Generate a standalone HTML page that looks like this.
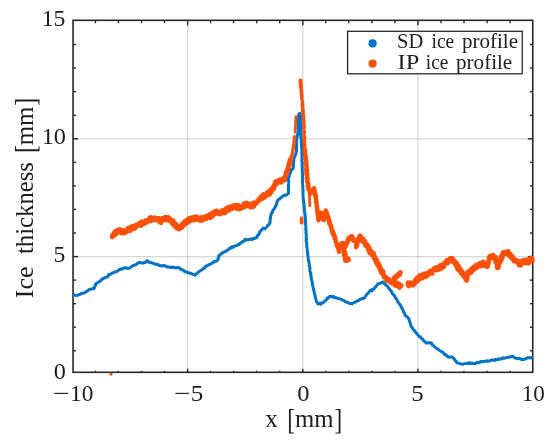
<!DOCTYPE html>
<html lang="en"><head><meta charset="utf-8"><title>Ice profile</title>
<style>html,body{margin:0;padding:0;background:#fff}svg{display:block}text{font-family:"Liberation Serif","DejaVu Serif",serif;fill:#1c1c1c}</style></head><body>
<svg width="550" height="441" viewBox="0 0 550 441">
<rect width="550" height="441" fill="#ffffff"/>
<g stroke="#000" stroke-opacity="0.16" stroke-width="1.25"><line x1="187.6" y1="20.3" x2="187.6" y2="372.3"/><line x1="302.8" y1="20.3" x2="302.8" y2="372.3"/><line x1="417.9" y1="20.3" x2="417.9" y2="372.3"/><line x1="73.05" y1="256.6" x2="532.75" y2="256.6"/><line x1="73.05" y1="138.8" x2="532.75" y2="138.8"/></g>
<g stroke="#262626" stroke-width="1.4"><line x1="95.4" y1="372.3" x2="95.4" y2="370.8"/><line x1="95.4" y1="20.3" x2="95.4" y2="23.2"/><line x1="118.4" y1="372.3" x2="118.4" y2="370.8"/><line x1="118.4" y1="20.3" x2="118.4" y2="23.2"/><line x1="141.5" y1="372.3" x2="141.5" y2="370.8"/><line x1="141.5" y1="20.3" x2="141.5" y2="23.2"/><line x1="164.5" y1="372.3" x2="164.5" y2="370.8"/><line x1="164.5" y1="20.3" x2="164.5" y2="23.2"/><line x1="187.6" y1="372.3" x2="187.6" y2="368.7"/><line x1="187.6" y1="20.3" x2="187.6" y2="25.3"/><line x1="210.6" y1="372.3" x2="210.6" y2="370.8"/><line x1="210.6" y1="20.3" x2="210.6" y2="23.2"/><line x1="233.6" y1="372.3" x2="233.6" y2="370.8"/><line x1="233.6" y1="20.3" x2="233.6" y2="23.2"/><line x1="256.7" y1="372.3" x2="256.7" y2="370.8"/><line x1="256.7" y1="20.3" x2="256.7" y2="23.2"/><line x1="279.7" y1="372.3" x2="279.7" y2="370.8"/><line x1="279.7" y1="20.3" x2="279.7" y2="23.2"/><line x1="302.8" y1="372.3" x2="302.8" y2="368.7"/><line x1="302.8" y1="20.3" x2="302.8" y2="25.3"/><line x1="325.8" y1="372.3" x2="325.8" y2="370.8"/><line x1="325.8" y1="20.3" x2="325.8" y2="23.2"/><line x1="348.8" y1="372.3" x2="348.8" y2="370.8"/><line x1="348.8" y1="20.3" x2="348.8" y2="23.2"/><line x1="371.9" y1="372.3" x2="371.9" y2="370.8"/><line x1="371.9" y1="20.3" x2="371.9" y2="23.2"/><line x1="394.9" y1="372.3" x2="394.9" y2="370.8"/><line x1="394.9" y1="20.3" x2="394.9" y2="23.2"/><line x1="417.9" y1="372.3" x2="417.9" y2="368.7"/><line x1="417.9" y1="20.3" x2="417.9" y2="25.3"/><line x1="441.0" y1="372.3" x2="441.0" y2="370.8"/><line x1="441.0" y1="20.3" x2="441.0" y2="23.2"/><line x1="464.0" y1="372.3" x2="464.0" y2="370.8"/><line x1="464.0" y1="20.3" x2="464.0" y2="23.2"/><line x1="487.1" y1="372.3" x2="487.1" y2="370.8"/><line x1="487.1" y1="20.3" x2="487.1" y2="23.2"/><line x1="510.1" y1="372.3" x2="510.1" y2="370.8"/><line x1="510.1" y1="20.3" x2="510.1" y2="23.2"/><line x1="73.05" y1="350.8" x2="76.0" y2="350.8"/><line x1="532.75" y1="350.8" x2="529.9" y2="350.8"/><line x1="73.05" y1="327.2" x2="76.0" y2="327.2"/><line x1="532.75" y1="327.2" x2="529.9" y2="327.2"/><line x1="73.05" y1="303.7" x2="76.0" y2="303.7"/><line x1="532.75" y1="303.7" x2="529.9" y2="303.7"/><line x1="73.05" y1="280.1" x2="76.0" y2="280.1"/><line x1="532.75" y1="280.1" x2="529.9" y2="280.1"/><line x1="73.05" y1="256.6" x2="78.0" y2="256.6"/><line x1="532.75" y1="256.6" x2="527.8" y2="256.6"/><line x1="73.05" y1="233.0" x2="76.0" y2="233.0"/><line x1="532.75" y1="233.0" x2="529.9" y2="233.0"/><line x1="73.05" y1="209.4" x2="76.0" y2="209.4"/><line x1="532.75" y1="209.4" x2="529.9" y2="209.4"/><line x1="73.05" y1="185.9" x2="76.0" y2="185.9"/><line x1="532.75" y1="185.9" x2="529.9" y2="185.9"/><line x1="73.05" y1="162.3" x2="76.0" y2="162.3"/><line x1="532.75" y1="162.3" x2="529.9" y2="162.3"/><line x1="73.05" y1="138.8" x2="78.0" y2="138.8"/><line x1="532.75" y1="138.8" x2="527.8" y2="138.8"/><line x1="73.05" y1="115.2" x2="76.0" y2="115.2"/><line x1="532.75" y1="115.2" x2="529.9" y2="115.2"/><line x1="73.05" y1="91.6" x2="76.0" y2="91.6"/><line x1="532.75" y1="91.6" x2="529.9" y2="91.6"/><line x1="73.05" y1="68.1" x2="76.0" y2="68.1"/><line x1="532.75" y1="68.1" x2="529.9" y2="68.1"/><line x1="73.05" y1="44.5" x2="76.0" y2="44.5"/><line x1="532.75" y1="44.5" x2="529.9" y2="44.5"/></g>
<rect x="73.05" y="20.3" width="459.7" height="352.0" fill="none" stroke="#262626" stroke-width="1.6"/>
<defs><clipPath id="cb"><rect x="73" y="20.3" width="459.8" height="352"/></clipPath><clipPath id="co"><rect x="71" y="18" width="463.6" height="358"/></clipPath></defs>
<g clip-path="url(#cb)" fill="none" stroke-linejoin="round" stroke-linecap="round">
<polyline stroke="#0073C4" stroke-width="3.0" points="73.0,294.8 74.0,294.8 74.9,295.2 76.2,295.7 77.3,295.3 78.3,294.9 79.1,294.7 80.6,294.2 81.4,293.2 82.6,293.2 83.9,293.0 85.1,292.4 86.0,291.9 86.9,291.4 88.1,290.4 89.1,289.5 90.3,289.3 91.7,289.1 92.7,288.4 93.9,288.8 94.4,287.4 95.1,285.8 95.5,285.5 95.7,283.9 97.0,283.0 98.1,282.4 98.8,281.9 100.1,281.2 101.2,280.3 102.0,279.0 103.1,278.7 103.9,278.1 104.9,277.8 106.2,276.9 106.8,277.1 108.2,276.4 108.7,274.6 110.1,274.4 110.8,274.1 112.2,273.0 113.2,272.7 114.6,272.2 115.7,271.7 116.6,271.5 118.1,270.8 118.9,269.9 120.5,269.0 121.5,269.3 122.5,268.9 123.9,267.9 125.0,267.6 126.0,268.1 126.9,268.1 128.2,268.6 128.9,268.4 130.2,267.4 130.8,267.0 132.0,266.4 133.2,265.6 134.2,265.0 134.9,265.0 136.2,264.5 137.1,263.6 138.0,263.2 139.0,262.5 140.4,262.6 141.8,263.0 143.3,263.1 143.9,262.5 145.0,262.5 145.9,261.9 147.3,260.6 148.1,261.9 149.6,262.3 150.7,262.8 152.0,262.8 153.6,263.5 154.3,263.8 155.6,264.2 156.4,264.5 158.2,264.6 159.1,265.5 160.4,265.9 161.2,265.6 162.5,266.1 163.9,265.3 165.0,265.9 166.1,266.2 167.2,267.1 168.3,266.9 169.5,267.1 170.6,267.6 171.9,267.2 173.3,267.1 174.1,267.5 175.3,267.9 176.5,268.0 177.5,267.4 179.1,267.7 179.8,268.2 181.2,269.6 182.2,269.7 183.2,270.1 184.5,271.4 185.5,271.9 186.9,271.9 187.7,272.8 189.2,272.7 190.4,273.4 191.7,273.4 192.8,274.6 194.1,274.5 194.9,275.3 196.0,274.2 197.2,273.3 197.7,272.5 198.7,272.0 200.0,270.8 201.0,270.4 202.0,269.8 203.0,268.9 204.2,268.3 204.9,267.3 205.7,266.1 206.7,266.2 207.8,265.3 209.0,264.7 209.9,264.2 211.3,263.6 212.1,263.3 213.0,262.1 213.9,262.3 214.8,261.3 216.2,261.2 217.0,260.7 218.0,259.6 218.0,258.7 218.6,257.6 218.6,256.5 218.8,255.6 219.8,255.1 220.6,254.4 221.9,253.0 223.1,252.9 223.7,252.1 225.0,251.5 226.1,251.2 227.1,250.4 228.2,249.9 229.1,248.4 230.1,248.7 231.0,247.5 232.3,246.5 233.2,247.3 234.2,246.3 235.8,245.7 236.8,245.5 237.7,244.8 239.0,244.6 240.0,243.6 240.8,242.8 242.1,242.2 242.9,241.2 244.4,241.1 245.1,239.2 246.3,240.0 247.6,239.8 248.5,239.7 249.4,239.6 250.9,239.0 252.2,239.5 253.1,238.5 254.7,238.4 255.9,237.7 257.0,237.3 257.2,235.6 258.3,235.3 258.9,234.2 259.2,233.1 259.7,231.8 260.7,231.2 261.4,230.0 262.3,229.1 263.1,228.1 264.0,228.7 265.0,228.8 265.6,228.1 266.4,227.3 267.1,226.5 267.8,225.2 268.6,225.0 269.4,223.8 270.1,222.7 269.8,221.9 270.1,221.0 270.2,218.8 270.3,219.0 270.6,217.0 270.6,216.4 270.9,215.2 271.2,214.2 271.6,213.2 272.4,212.3 272.8,210.7 273.2,210.2 273.7,209.3 274.4,208.3 274.9,207.8 275.6,205.9 276.0,205.8 276.4,204.0 277.0,202.5 277.1,201.3 277.8,200.3 278.7,199.4 279.7,198.9 280.5,198.1 281.3,197.6 282.1,196.6 283.5,195.8 284.6,195.1 285.7,195.3 287.1,194.5 288.2,193.6 288.6,192.9 288.5,191.2 288.4,189.7 288.6,189.2 288.3,187.7 288.7,186.0 288.3,185.1 288.5,183.9 288.6,183.2 288.7,182.2 288.8,181.2 288.4,179.6 288.4,178.3 288.9,177.5 289.2,176.0 289.3,175.4 289.7,174.2 290.0,173.0 290.6,172.2 290.9,170.9 291.4,169.2 292.2,169.3 293.0,168.7 293.3,167.0 293.3,166.0 293.5,165.1 293.5,163.4 293.6,162.4 293.8,161.3 293.7,159.6 294.1,158.6 294.3,157.5 294.8,156.4 295.3,155.0 295.9,153.8 296.1,152.8 296.5,150.8 296.4,150.1 296.6,149.5 296.5,147.9 296.6,146.5 296.6,145.0 296.6,143.4 296.7,142.2 296.5,141.9 296.5,140.0 296.9,138.8 296.9,137.6 297.3,136.5 297.4,135.5 297.9,133.8 297.9,132.4 298.2,131.0 298.3,129.9 298.1,129.0 298.5,127.5 298.2,126.5 298.3,125.1 298.6,124.1 298.3,123.2 298.5,121.5 298.4,120.0 298.3,119.2 298.8,117.0 298.5,115.5 299.0,114.8 299.0,113.7 300.1,113.5 300.3,114.5 300.4,116.1 300.5,117.3 300.3,118.7 300.4,120.5 300.7,121.2 300.5,122.3 300.5,123.6 300.7,125.2 300.8,126.9 300.6,127.5 301.2,128.2 300.7,130.1 300.9,131.4 300.9,132.6 301.0,134.0 300.7,134.7 301.0,135.9 300.9,137.7 301.1,138.9 301.3,140.1 301.4,141.2 301.1,142.5 301.5,143.6 301.5,145.2 301.4,146.4 301.9,147.3 301.7,148.7 302.0,150.1 302.0,150.9 301.9,152.3 301.6,153.9 302.1,154.1 302.1,155.7 302.1,157.0 301.8,158.0 302.3,159.1 301.9,160.0 301.9,161.6 302.4,162.8 302.2,164.5 302.1,164.8 302.3,166.4 302.1,167.0 302.3,168.7 302.1,169.7 302.3,171.1 302.4,172.2 302.4,173.7 302.7,174.5 302.6,175.6 302.5,177.2 302.8,178.1 302.6,179.5 302.4,180.6 302.6,181.9 302.5,182.4 302.7,184.2 302.7,185.6 302.8,186.3 302.9,187.2 302.8,188.8 303.1,190.0 303.0,191.0 303.1,192.9 302.9,194.2 303.0,194.7 303.1,196.2 303.0,196.4 303.3,198.4 303.4,200.2 303.5,200.6 303.7,201.9 304.0,202.5 303.8,203.1 304.1,205.2 304.2,207.1 304.2,207.6 304.3,208.6 304.4,210.2 304.6,211.3 304.7,212.8 304.9,213.7 305.1,215.0 305.0,216.7 305.3,217.2 305.5,218.9 305.3,220.5 305.6,221.4 305.6,222.3 305.4,223.8 305.7,224.6 305.8,225.9 305.9,226.9 305.8,227.6 305.8,229.6 306.1,230.5 306.0,232.2 306.0,233.2 306.3,234.1 306.3,235.1 306.2,236.4 306.2,238.0 306.6,238.6 306.2,240.1 306.2,241.3 306.6,242.2 306.7,243.0 306.8,244.2 306.7,245.6 306.9,247.2 307.1,248.0 307.2,249.7 307.3,250.5 307.6,251.6 307.3,253.4 307.9,253.3 307.7,255.1 308.0,256.4 308.1,257.1 308.3,259.0 308.3,259.6 308.7,260.5 308.9,262.2 309.2,263.3 309.2,264.7 309.5,265.8 309.7,267.4 310.0,268.8 309.9,269.4 309.8,271.2 310.2,271.8 310.6,272.6 310.7,274.2 310.6,275.4 311.2,275.9 311.3,277.7 311.4,279.0 311.7,279.9 311.9,281.0 312.1,282.1 312.3,284.0 312.6,284.6 312.6,285.6 313.1,287.3 313.4,288.3 313.6,289.7 313.8,290.3 314.2,291.7 314.3,292.7 314.6,294.2 314.9,294.7 315.2,296.2 315.3,297.5 315.7,298.2 316.1,299.8 316.2,300.6 316.8,302.3 317.6,303.1 318.2,304.0 320.0,303.1 320.9,304.2 322.0,303.0 323.3,302.5 323.8,302.0 324.7,301.3 325.7,300.2 326.9,299.4 327.3,298.0 328.5,297.9 329.0,297.1 330.1,296.2 330.9,296.3 332.5,297.0 333.7,296.5 334.8,297.7 336.4,297.7 337.1,298.3 338.5,298.5 339.7,298.8 340.7,299.2 341.9,299.5 342.8,300.3 344.0,300.4 345.0,301.5 345.9,301.8 347.1,302.6 347.9,302.4 349.5,303.4 350.7,303.6 352.0,303.9 352.8,303.2 353.9,302.6 354.8,302.4 355.8,301.8 356.8,301.1 358.4,300.6 359.2,300.0 360.5,299.0 361.6,299.0 362.8,298.5 364.1,298.2 364.9,297.3 365.5,296.2 366.2,295.3 367.0,294.0 367.7,293.6 368.4,292.7 369.3,291.8 370.3,290.2 371.0,290.0 372.1,290.8 372.6,289.5 374.1,288.9 374.9,287.3 375.7,287.1 376.4,285.8 377.3,284.9 378.0,283.8 378.9,283.5 380.5,283.2 381.6,282.5 383.1,282.0 384.0,283.4 384.5,283.1 385.6,285.0 386.5,285.6 387.1,286.0 388.1,286.7 388.4,287.7 389.8,289.6 390.0,289.8 390.9,290.8 391.8,292.0 392.1,293.4 392.9,294.1 393.7,294.9 394.4,295.8 394.7,296.3 395.5,297.8 396.3,299.0 397.1,300.0 397.5,300.8 397.9,301.9 398.9,303.2 399.5,303.9 400.3,305.0 400.9,306.2 401.4,307.4 401.9,307.9 402.4,308.9 403.2,310.9 403.5,311.7 404.2,312.9 404.7,313.5 404.9,315.1 406.0,315.8 406.5,316.5 407.3,317.1 408.4,318.0 409.0,319.6 409.5,320.3 409.6,321.5 410.2,322.7 410.5,323.7 410.7,324.8 411.1,326.4 411.5,327.0 412.4,327.8 413.0,329.2 414.0,330.2 414.4,330.5 415.3,332.0 415.9,332.5 416.7,333.4 417.6,334.7 418.4,335.5 419.2,336.7 420.0,336.6 421.0,337.8 421.7,338.7 422.8,339.2 423.6,340.8 424.5,341.2 425.3,342.0 426.1,343.0 427.0,342.9 428.0,342.9 429.1,342.6 430.0,343.1 430.7,342.8 431.5,343.2 432.2,344.8 433.2,344.9 433.9,346.4 434.9,346.9 436.0,348.1 437.3,348.7 438.0,349.2 439.3,350.3 440.0,350.7 441.0,351.3 441.9,351.6 442.8,352.3 443.9,353.6 444.4,354.6 445.6,354.3 446.6,355.8 447.5,355.9 448.1,357.1 449.3,357.2 450.7,356.9 451.6,357.0 452.9,357.4 453.9,358.6 454.6,359.3 455.3,360.8 456.3,361.5 457.0,362.9 457.9,363.1 459.2,363.4 460.1,363.7 461.3,364.0 462.1,364.1 463.4,364.2 464.6,363.7 465.9,363.6 467.0,363.4 468.2,363.5 469.3,362.6 470.6,363.4 471.3,363.3 472.8,363.5 473.7,363.5 475.0,363.7 476.1,363.0 477.2,362.3 478.6,362.7 479.8,362.5 480.6,361.5 481.8,361.6 482.9,361.8 484.2,361.3 485.3,361.2 486.5,361.3 487.7,360.7 488.5,361.2 489.9,360.9 490.8,360.3 492.1,359.8 493.2,360.3 494.6,360.4 495.4,359.3 496.8,359.8 497.9,359.0 499.1,359.4 500.3,358.8 501.5,358.9 502.6,357.8 504.0,358.2 505.2,358.1 506.3,357.5 507.5,357.4 508.9,356.9 510.1,357.2 511.0,356.7 512.3,356.2 513.1,356.5 514.3,357.7 515.5,357.9 516.5,358.3 517.5,358.7 518.9,358.3 520.0,358.7 521.5,359.5 522.4,359.6 523.9,359.4 524.6,359.0 525.8,359.0 526.9,357.9 528.0,357.7 529.3,357.7 530.1,357.6 531.3,358.1 532.6,357.7"/>
</g>
<g clip-path="url(#co)" fill="none" stroke="#FC5009" stroke-linecap="round">
<path stroke-width="4.8" d="M112.2,237.1h0M112.2,236.2h0M112.7,235.1h0M113.0,235.6h0M113.7,235.5h0M113.9,233.3h0M114.0,235.3h0M114.8,233.9h0M114.9,231.9h0M115.4,232.1h0M115.5,234.7h0M115.9,231.2h0M116.4,232.6h0M116.7,232.2h0M117.0,233.1h0M117.6,231.2h0M117.8,230.2h0M118.2,230.6h0M118.8,229.6h0M118.5,230.6h0M119.2,230.4h0M119.7,229.4h0M120.3,231.1h0M120.4,230.9h0M121.2,230.5h0M121.4,233.2h0M122.1,230.6h0M122.1,231.3h0M122.9,230.4h0M123.2,233.0h0M123.6,231.8h0M124.4,231.0h0M124.5,231.2h0M125.0,232.8h0M125.0,231.3h0M125.3,231.4h0M125.9,232.3h0M126.2,232.1h0M126.6,230.1h0M127.0,230.1h0M127.8,228.3h0M127.8,229.2h0M128.4,229.0h0M128.9,229.3h0M129.1,230.0h0M129.9,230.8h0M130.2,227.3h0M130.6,230.4h0M131.1,227.3h0M130.9,228.9h0M132.0,226.4h0M131.9,228.7h0M132.2,226.4h0M133.1,226.7h0M133.1,226.9h0M134.0,228.8h0M134.5,225.9h0M134.8,227.3h0M135.3,227.4h0M135.7,227.7h0M136.0,225.2h0M136.4,226.3h0M137.0,225.8h0M136.9,226.0h0M137.2,224.6h0M137.6,225.4h0M138.1,225.1h0M138.7,225.0h0M139.4,225.0h0M139.8,222.8h0M140.0,224.4h0M140.7,224.9h0M140.8,223.6h0M140.9,225.7h0M141.7,224.2h0M142.1,221.7h0M142.8,224.0h0M143.2,222.5h0M143.3,222.9h0M143.3,224.2h0M144.2,223.3h0M144.8,221.7h0M144.9,221.6h0M145.5,222.0h0M145.7,220.6h0M146.2,221.2h0M146.4,222.5h0M146.9,222.3h0M147.2,220.9h0M148.1,220.7h0M148.4,221.0h0M148.5,219.6h0M149.1,219.2h0M149.6,220.4h0M150.0,217.9h0M150.3,221.0h0M150.5,217.7h0M150.8,217.3h0M151.5,220.7h0M152.1,219.5h0M152.4,220.3h0M152.8,219.0h0M153.2,219.4h0M153.4,219.4h0M154.1,219.4h0M154.2,219.8h0M154.7,217.6h0M155.8,219.9h0M155.8,219.5h0M156.6,220.2h0M156.6,219.4h0M157.2,218.6h0M157.6,218.9h0M158.4,220.3h0M158.5,218.2h0M158.6,218.3h0M159.4,221.5h0M159.7,222.0h0M160.1,218.8h0M160.9,221.2h0M161.0,222.8h0M161.1,220.4h0M161.6,221.1h0M161.9,219.0h0M162.8,218.2h0M163.4,218.5h0M163.7,218.1h0M163.5,218.1h0M164.1,220.1h0M164.4,219.9h0M165.3,217.1h0M165.8,219.4h0M165.6,219.6h0M166.5,219.3h0M167.1,218.8h0M167.6,218.1h0M167.3,220.0h0M168.2,217.4h0M168.2,220.6h0M169.2,218.8h0M169.6,218.5h0M169.4,220.0h0M170.1,219.9h0M170.5,220.4h0M171.0,219.6h0M171.2,220.7h0M171.4,222.0h0M172.0,221.3h0M172.4,223.8h0M172.4,222.6h0M173.3,221.0h0M173.5,223.7h0M173.7,222.6h0M174.1,225.4h0M174.0,224.3h0M174.7,224.0h0M174.8,224.1h0M175.2,225.3h0M175.0,226.4h0M175.3,223.7h0M175.8,225.7h0M176.3,227.5h0M176.5,224.9h0M176.8,228.2h0M176.7,227.4h0M177.6,228.6h0M178.1,228.1h0M177.9,226.9h0M178.8,227.8h0M179.2,226.6h0M179.2,229.2h0M179.9,227.7h0M180.0,227.0h0M180.8,226.0h0M181.0,227.9h0M181.6,224.9h0M181.4,227.2h0M182.3,226.1h0M182.3,227.0h0M182.7,225.1h0M182.7,223.7h0M183.4,223.3h0M183.6,223.7h0M183.9,223.5h0M183.9,222.3h0M184.4,225.2h0M185.0,221.4h0M184.9,223.7h0M185.4,222.7h0M185.5,222.1h0M186.6,220.1h0M186.6,223.0h0M186.8,221.6h0M187.3,222.2h0M188.0,222.6h0M188.5,221.9h0M188.1,219.5h0M188.6,219.1h0M188.9,218.4h0M189.9,220.0h0M190.3,219.3h0M190.1,220.9h0M190.8,219.6h0M191.6,217.7h0M191.7,218.1h0M192.4,219.4h0M192.4,219.4h0M192.7,218.4h0M193.7,220.3h0M193.4,217.3h0M194.1,217.3h0M194.9,219.7h0M194.7,219.3h0M195.6,219.2h0M196.2,218.8h0M196.0,216.7h0M197.0,219.5h0M196.9,219.3h0M197.7,219.1h0M197.8,217.4h0M198.0,218.1h0M198.5,219.1h0M198.9,218.3h0M199.2,220.1h0M199.8,220.4h0M200.7,217.7h0M201.2,218.3h0M201.6,220.6h0M201.6,217.7h0M202.4,217.4h0M202.6,220.1h0M202.8,218.5h0M203.4,219.7h0M203.5,218.9h0M203.9,217.2h0M204.7,218.9h0M205.3,216.6h0M205.4,216.9h0M205.7,216.4h0M206.2,218.8h0M206.7,216.1h0M207.5,216.6h0M207.9,215.7h0M208.3,215.3h0M208.2,217.4h0M208.6,216.5h0M208.9,215.4h0M209.9,215.6h0M210.3,217.8h0M210.2,214.2h0M210.4,217.0h0M211.0,216.1h0M211.2,216.9h0M211.8,216.0h0M211.9,213.2h0M212.7,215.7h0M213.0,213.0h0M213.3,215.5h0M213.6,214.0h0M214.5,212.3h0M214.4,214.1h0M214.7,211.5h0M215.4,213.3h0M215.6,211.8h0M216.4,212.9h0M216.7,213.4h0M216.7,210.9h0M217.4,213.0h0M217.6,213.1h0M218.2,213.5h0M219.1,213.7h0M218.9,212.5h0M219.6,214.2h0M219.9,214.2h0M220.8,211.7h0M220.7,212.5h0M221.5,212.3h0M221.8,210.7h0M222.2,212.2h0M222.8,210.7h0M223.3,213.2h0M223.6,211.1h0M224.0,211.1h0M224.5,209.7h0M224.7,212.9h0M225.1,211.0h0M225.1,210.9h0M225.7,212.3h0M226.0,209.1h0M226.9,209.2h0M226.8,208.1h0M227.3,210.5h0M228.0,207.7h0M228.3,209.6h0M228.4,209.9h0M229.3,210.3h0M229.2,206.9h0M229.9,208.4h0M230.1,207.4h0M230.5,207.7h0M231.4,208.2h0M231.6,206.3h0M231.7,208.4h0M232.7,208.5h0M232.7,206.6h0M233.2,208.1h0M233.9,206.2h0M233.9,207.5h0M234.3,205.5h0M235.2,206.3h0M235.6,207.8h0M236.0,207.9h0M236.2,205.1h0M236.9,208.7h0M236.9,206.0h0M237.3,207.6h0M237.5,207.3h0M238.3,207.0h0M238.4,205.5h0M239.4,209.2h0M239.7,209.2h0M240.3,208.8h0M240.0,208.8h0M240.6,207.7h0M241.0,207.6h0M241.9,206.9h0M241.8,207.0h0M242.3,206.4h0M242.6,207.8h0M243.3,205.2h0M243.7,204.2h0M244.0,207.2h0M244.4,204.4h0M244.5,205.2h0M244.9,203.4h0M245.5,203.8h0M245.8,203.6h0M246.5,203.0h0M246.9,206.0h0M247.4,205.1h0M247.9,203.8h0M248.2,205.0h0M248.5,205.7h0M248.8,204.7h0M249.4,204.5h0M249.9,205.2h0M250.2,204.0h0M250.5,207.3h0M251.1,206.3h0M251.9,205.4h0M252.2,205.6h0M252.0,204.8h0M252.6,207.1h0M252.8,203.7h0M253.4,204.8h0M253.3,203.2h0M254.0,206.1h0M254.0,202.7h0M254.5,203.1h0M255.0,203.8h0M255.0,204.2h0M255.5,203.6h0M255.7,203.4h0M256.2,203.2h0M256.1,203.3h0M256.4,202.9h0M257.1,202.2h0M257.8,200.8h0M257.7,200.8h0M258.4,201.3h0M258.4,200.3h0M258.8,199.4h0M259.0,200.2h0M259.5,198.6h0M259.7,198.3h0M260.5,199.6h0M260.6,198.2h0M260.9,196.8h0M261.4,196.4h0M261.4,197.8h0M262.0,198.8h0M262.8,198.3h0M262.7,198.5h0M263.6,196.2h0M263.3,194.4h0M264.0,196.2h0M264.6,197.4h0M265.1,195.7h0M265.2,195.4h0M265.4,195.8h0M266.0,194.3h0M266.6,194.0h0M266.7,195.0h0M267.0,192.6h0M267.5,193.5h0M268.1,193.9h0M268.2,195.2h0M268.7,193.0h0M268.8,194.8h0M269.5,192.7h0M269.4,191.0h0M270.2,193.7h0M269.9,191.6h0M270.7,192.7h0M271.3,192.1h0M271.2,192.0h0M271.4,188.9h0M271.9,190.0h0M272.0,188.4h0M272.6,189.8h0M273.2,188.4h0M272.9,189.1h0M273.6,187.9h0M273.7,187.1h0M273.7,185.6h0M274.1,188.4h0M274.0,187.3h0M274.4,186.3h0M274.7,185.0h0M275.2,185.6h0M274.9,185.4h0M274.9,183.3h0M275.1,185.3h0M275.3,182.5h0M276.0,183.7h0M276.2,183.6h0M276.0,181.3h0M276.7,183.8h0M277.1,183.4h0M277.5,181.1h0M278.4,180.7h0M278.3,182.3h0M278.8,181.6h0M279.6,179.9h0M280.0,181.7h0M280.2,181.0h0M280.2,180.0h0M281.2,182.4h0M281.6,179.9h0M281.6,181.5h0M282.5,180.5h0M282.9,179.9h0M282.9,178.7h0M283.2,180.3h0M284.1,178.5h0M284.4,179.0h0M284.3,177.8h0M284.8,178.1h0M285.0,180.0h0M284.9,178.0h0M285.3,177.5h0M285.1,176.6h0M285.8,175.1h0M285.5,175.5h0M285.7,174.5h0M285.6,174.2h0M286.0,175.4h0M286.4,173.1h0M286.1,172.4h0M286.2,174.8h0M286.8,172.9h0M286.4,173.9h0M287.0,171.7h0M287.3,171.4h0M287.4,170.3h0M287.0,171.0h0M287.1,170.4h0M287.3,171.0h0M287.7,171.3h0M287.6,168.8h0M287.7,169.3h0M287.8,169.9h0M288.2,168.1h0M288.5,166.8h0M288.6,166.8h0M288.5,167.1h0M288.4,166.0h0M289.1,164.7h0M289.1,164.8h0M289.1,163.6h0M289.2,164.1h0M289.0,163.5h0M289.2,163.1h0M289.7,162.0h0M289.6,162.1h0M290.0,164.1h0M290.2,163.6h0M289.9,160.3h0M290.3,159.5h0M290.1,161.5h0M290.5,160.1h0M290.3,160.8h0"/>
<path stroke-width="3.4" d="M290.5,160.3h0M290.6,159.7h0M290.8,158.8h0M290.9,158.9h0M290.9,157.8h0M291.0,157.5h0M291.2,157.2h0M291.3,156.5h0M291.4,156.7h0M291.6,156.5h0M291.7,155.9h0M291.9,155.2h0M291.9,154.7h0M292.1,154.8h0M292.1,153.8h0M292.3,153.9h0M292.3,152.7h0M292.5,152.3h0M292.6,152.0h0M292.5,152.1h0M292.7,151.6h0M292.8,151.2h0M292.7,150.4h0M292.9,150.6h0M293.0,150.1h0M293.1,149.5h0M293.1,149.0h0M293.3,148.0h0M293.3,147.9h0M293.3,148.0h0M293.3,147.3h0M293.5,146.8h0M293.5,145.9h0M293.6,146.2h0M293.6,145.3h0M293.6,144.3h0M293.7,144.2h0M293.7,143.7h0M293.9,143.6h0M293.8,142.7h0M293.9,142.5h0M294.0,142.4h0M294.1,141.3h0M294.1,140.7h0M294.2,140.5h0M294.2,140.2h0M294.3,139.4h0M294.3,139.4h0M294.4,139.1h0M294.3,138.0h0M294.4,137.8h0M294.4,137.0h0M294.5,136.7h0"/>
<path stroke-width="3.0" d="M295.2,132.0h0M295.2,131.5h0M295.2,131.0h0M295.2,130.5h0M295.3,130.4h0M295.3,129.6h0M295.3,129.5h0M295.3,128.7h0M295.3,128.4h0M295.3,128.0h0M295.4,127.7h0M295.5,127.1h0M295.4,126.7h0M295.4,126.0h0M295.5,125.5h0M295.5,125.4h0M295.5,124.7h0M295.6,124.5h0M295.6,123.8h0M295.6,123.6h0M295.6,122.9h0M295.6,122.7h0M295.7,122.0h0M295.7,121.6h0M295.7,121.0h0M295.8,120.7h0M295.8,120.4h0M295.9,119.9h0M295.8,119.3h0M295.9,118.7h0M295.9,118.4h0M295.9,118.0h0M296.0,117.4h0M296.0,116.8h0"/>
<path stroke-width="4.0" d="M300.5,80.6h0M300.5,81.1h0M300.6,81.7h0M300.6,82.1h0M300.6,82.5h0M300.6,83.0h0M300.6,83.4h0M300.7,83.9h0M300.7,84.4h0M300.7,84.7h0M300.8,85.2h0M300.8,85.5h0M300.9,86.0h0M300.9,86.6h0"/>
<path stroke-width="3.3" d="M301.1,84.3h0M300.8,84.9h0M300.4,85.2h0M300.9,85.5h0M300.9,85.6h0M300.9,86.7h0M300.8,86.8h0M301.3,87.0h0M300.7,87.2h0M301.0,88.2h0M301.2,88.1h0M301.2,88.8h0M301.2,89.3h0M301.1,89.9h0M301.0,90.0h0M301.3,91.1h0M301.7,90.9h0M301.0,91.4h0M301.2,92.1h0M301.5,92.5h0M301.6,92.8h0M301.6,93.1h0M301.2,94.0h0M301.2,94.3h0M302.0,94.7h0M301.9,95.3h0M301.4,95.9h0M302.0,96.6h0M302.1,96.2h0M301.6,96.9h0M301.9,97.9h0M301.6,98.1h0M301.6,98.6h0M301.9,98.5h0M302.1,98.8h0M301.9,99.4h0M302.1,100.3h0M302.3,100.9h0M302.3,101.3h0M302.6,101.8h0M302.5,101.6h0M302.5,102.2h0M302.6,103.0h0M302.3,102.9h0M302.8,103.9h0M302.0,104.3h0M302.1,104.7h0M302.8,105.1h0M302.9,105.2h0M302.4,106.1h0M302.6,106.1h0M302.7,107.2h0M302.3,107.0h0M303.0,107.4h0M302.8,107.9h0M303.0,108.5h0M302.5,109.0h0M302.9,109.9h0M303.2,110.2h0M302.5,110.9h0M302.6,110.8h0M303.3,111.4h0M302.6,112.1h0M303.3,112.0h0M303.0,112.9h0M302.8,113.2h0M303.1,113.9h0M303.3,114.4h0M303.1,114.2h0M303.6,114.7h0M302.9,115.5h0M303.2,115.6h0M303.4,116.3h0M303.2,116.7h0M303.5,116.8h0M303.0,117.6h0M303.9,118.1h0M303.2,118.2h0M303.3,119.2h0M303.6,119.3h0M303.7,119.8h0M304.0,120.5h0M303.2,121.4h0M303.9,121.4h0M303.9,122.2h0M303.8,122.4h0M303.5,122.6h0M304.1,123.4h0M303.9,124.0h0M304.0,123.9h0M303.8,124.8h0M303.7,125.1h0M303.7,125.5h0M303.7,125.5h0M304.3,126.2h0M303.8,126.8h0M303.7,127.0h0M303.6,127.6h0M304.3,127.7h0M303.9,128.6h0M303.8,129.2h0M303.6,129.2h0M303.8,129.8h0M304.1,130.7h0M303.9,131.3h0M304.1,131.7h0M303.8,131.4h0M304.6,132.3h0M304.4,132.6h0M304.5,133.1h0M304.2,133.2h0M304.0,134.5h0M303.8,134.3h0M304.0,134.7h0M304.0,135.6h0M304.0,135.8h0M304.6,136.5h0M304.1,137.0h0M304.8,137.5h0M304.0,137.8h0M304.7,138.5h0M304.1,138.5h0M304.5,138.8h0M304.6,139.9h0M304.2,140.4h0M304.7,140.3h0M304.5,141.0h0M304.4,141.5h0M304.5,141.4h0M304.7,141.9h0M304.6,142.6h0M304.4,143.3h0M304.2,143.6h0M304.8,144.5h0M304.3,145.0h0M305.0,145.1h0M304.4,145.3h0M304.5,145.6h0M304.4,146.6h0M304.8,147.1h0M304.9,147.3h0M305.0,147.8h0M304.8,148.3h0M304.7,148.9h0M305.2,149.3h0M304.8,149.8h0M305.4,150.2h0"/>
<path stroke-width="4.2" d="M304.8,149.9h0M305.5,150.5h0M304.5,150.4h0M305.3,151.3h0M305.0,152.2h0M304.9,153.0h0M304.8,153.1h0M304.9,152.5h0M305.3,153.0h0M305.0,154.2h0M305.2,155.1h0M305.1,154.5h0M305.9,155.8h0M305.0,155.4h0M305.2,156.7h0M305.6,157.5h0M305.4,157.4h0M305.6,158.1h0M306.1,157.9h0M306.0,158.1h0M305.9,158.5h0M306.2,159.4h0M305.9,159.4h0M306.3,160.3h0M306.0,161.5h0M305.7,160.9h0M305.9,161.4h0M305.7,161.9h0M306.2,163.1h0M306.6,162.9h0M306.2,163.2h0M306.6,163.6h0M305.9,165.0h0M306.6,165.3h0M306.1,165.1h0M306.7,165.8h0M306.5,165.8h0M306.3,166.9h0M306.8,167.3h0M306.8,167.2h0M306.8,167.8h0M306.1,169.0h0M307.1,169.4h0M306.0,169.1h0M307.1,169.3h0M307.1,169.6h0M306.9,170.2h0M306.3,170.6h0M306.2,171.8h0M307.2,171.8h0M307.2,172.8h0M306.3,173.6h0M307.2,173.0h0M306.3,174.1h0M306.6,174.2h0M306.5,174.6h0M307.5,174.5h0M307.4,175.3h0M307.0,175.5h0M307.0,175.9h0M307.3,176.5h0M307.4,176.8h0M306.7,177.8h0M307.2,178.0h0M307.0,179.3h0M307.8,178.7h0M307.5,180.1h0M306.9,179.7h0M306.9,180.1h0M307.4,180.3h0M307.6,181.2h0M307.0,181.6h0M307.8,182.5h0M307.7,182.8h0M308.3,183.4h0M308.1,184.1h0M307.7,183.9h0M308.5,184.4h0M307.9,184.8h0M307.7,185.3h0M307.6,186.5h0M308.7,186.5h0M308.4,186.4h0M308.0,187.0h0M308.0,187.2h0M308.8,188.6h0M308.0,189.1h0M308.4,189.3h0"/>
<path stroke-width="3.0" d="M308.6,189.0h0M308.7,189.4h0M308.7,189.9h0M308.8,190.3h0M308.8,190.7h0M308.9,191.2h0M308.9,191.6h0M309.0,192.0h0M309.0,192.5h0M309.1,192.9h0M309.1,193.4h0M309.2,193.8h0M309.2,194.2h0M309.3,194.7h0M309.3,195.1h0M309.4,195.5h0M309.4,196.0h0M309.5,196.4h0M309.5,196.9h0M309.5,197.3h0M309.5,197.8h0M309.6,198.2h0M309.6,198.7h0M309.6,199.1h0M309.6,199.6h0M309.6,200.0h0M309.6,200.5h0M309.6,200.9h0M309.7,201.4h0M309.7,201.9h0M309.7,202.3h0M309.7,202.8h0M309.7,203.2h0M309.7,203.7h0M309.8,204.1h0M309.8,204.6h0M309.8,205.0h0M309.8,205.5h0"/>
<path stroke-width="4.5" d="M310.5,193.4h0M311.0,192.1h0M311.1,190.8h0M311.1,192.6h0M311.6,191.5h0M311.6,190.2h0M311.7,191.1h0M311.9,190.6h0M312.5,189.9h0M312.7,190.1h0M313.2,189.7h0M313.7,188.5h0M314.2,188.4h0M314.2,189.4h0M314.2,189.9h0M314.1,189.6h0M314.4,191.8h0M314.5,191.2h0M314.5,192.4h0M314.9,191.2h0M314.9,192.4h0M315.1,193.8h0M314.8,194.3h0M315.3,193.5h0M315.0,195.0h0M315.2,193.7h0M315.3,194.0h0M315.5,196.3h0M315.4,195.8h0M315.9,196.1h0M315.7,197.4h0M315.9,197.2h0M315.7,198.4h0M315.9,198.7h0M315.9,198.7h0M316.0,198.8h0M315.9,199.2h0M316.2,199.2h0M316.1,199.3h0M316.2,201.5h0M316.2,200.9h0M316.2,202.7h0M316.6,202.6h0M316.5,202.0h0M316.6,203.9h0M316.4,203.3h0M316.6,203.9h0M316.6,205.1h0M316.8,204.8h0M316.7,206.3h0M316.9,205.6h0M316.7,207.5h0M317.1,208.0h0M317.1,206.9h0M316.8,207.3h0M317.0,208.8h0M317.1,208.7h0M317.3,210.1h0M317.3,208.3h0M317.3,209.9h0M317.3,211.3h0M317.6,210.8h0M317.4,211.2h0M317.7,211.8h0M317.7,212.7h0M317.4,212.4h0M317.7,213.6h0M317.8,214.3h0M317.6,213.0h0M318.0,213.4h0M317.6,213.9h0M317.9,216.0h0M318.0,214.6h0M318.0,216.8h0M318.1,215.5h0M318.1,216.9h0M318.3,218.9h0M318.0,219.0h0M318.3,218.0h0M318.6,217.6h0M318.2,218.8h0M318.3,219.3h0M318.6,220.3h0M318.7,219.0h0M318.8,217.4h0M319.2,219.1h0M319.1,218.6h0M319.1,216.5h0M319.4,216.9h0M319.6,216.3h0M319.7,216.2h0M319.8,216.3h0M320.1,216.2h0M320.2,213.5h0M320.4,214.4h0M320.5,214.0h0M320.9,212.8h0M321.0,212.5h0M321.1,214.2h0M321.5,213.7h0M321.6,214.1h0M321.6,213.6h0M321.6,215.5h0M321.8,216.5h0M322.0,216.2h0M322.4,217.5h0M322.5,217.6h0M322.8,217.7h0M322.7,217.1h0M322.9,219.0h0M323.1,219.6h0M323.2,217.9h0M323.9,220.1h0M323.9,219.6h0M324.1,218.7h0M323.8,219.4h0M324.2,217.3h0M324.4,216.8h0M324.2,217.1h0M324.3,217.4h0M324.3,216.9h0M324.5,217.4h0M324.5,216.7h0M325.0,216.2h0M324.7,214.7h0M325.1,214.2h0M325.1,213.4h0M325.2,212.6h0M325.3,213.8h0M325.2,213.2h0M325.3,213.2h0M325.9,213.0h0M325.7,212.6h0M325.7,210.5h0M325.9,212.1h0M325.9,213.0h0M326.4,212.2h0M326.4,212.9h0M326.3,212.0h0M326.9,212.9h0M326.6,214.9h0M326.7,215.5h0M327.3,215.1h0M327.4,214.8h0M327.1,216.1h0M327.5,215.6h0M327.8,215.8h0M327.9,216.1h0M327.7,216.8h0M327.8,217.9h0M328.3,218.3h0M328.3,218.9h0M328.5,217.8h0M328.7,218.4h0M328.7,219.0h0M328.8,220.0h0M328.8,221.2h0M329.3,220.3h0M329.4,221.2h0M329.3,223.0h0M329.3,221.6h0M329.4,223.9h0M329.7,223.3h0M329.8,222.8h0M330.0,223.3h0M330.0,224.6h0M330.2,224.3h0M330.2,224.7h0M330.7,225.2h0M330.8,226.3h0M331.0,225.5h0M331.0,227.1h0M331.1,227.8h0M331.3,227.3h0M331.2,227.5h0M331.5,227.6h0M331.6,229.3h0M331.7,230.7h0M331.9,230.3h0M332.4,230.8h0M332.2,231.5h0M332.7,230.7h0M332.5,233.1h0M333.1,232.5h0M333.1,233.5h0M333.3,233.9h0M333.2,234.6h0M333.6,235.1h0M333.6,234.1h0M334.0,234.1h0M333.9,235.7h0M334.0,235.3h0M334.2,235.3h0M334.7,236.1h0M334.7,238.3h0M334.7,237.3h0M335.0,238.6h0M335.0,238.9h0M335.2,237.9h0M335.4,240.0h0M335.5,238.5h0M335.3,239.6h0M335.7,241.6h0M335.6,241.5h0M336.2,242.1h0M336.2,242.7h0M336.4,242.9h0M336.4,242.7h0M336.7,243.8h0M336.6,244.3h0M336.9,244.9h0M336.8,245.3h0M337.3,245.8h0M337.5,244.4h0M337.3,244.7h0M337.4,245.7h0M337.9,246.3h0M337.9,247.2h0M338.1,246.9h0M338.1,248.3h0M338.3,249.1h0M338.1,248.2h0M338.6,249.3h0M338.6,248.9h0M338.8,250.6h0M338.8,248.9h0M338.7,249.3h0M339.0,251.8h0M339.1,250.9h0M339.2,249.7h0M339.6,249.4h0M339.5,249.6h0M339.7,247.8h0M339.9,249.0h0M340.2,248.5h0M340.3,246.7h0M340.6,246.1h0M340.4,246.0h0M340.6,247.6h0M341.1,245.3h0M341.2,245.9h0M341.2,244.9h0M341.3,245.9h0M341.3,245.6h0M341.5,244.8h0M341.5,243.6h0M342.2,243.1h0M342.3,244.2h0M342.3,244.1h0M342.6,244.1h0M342.7,246.5h0M343.1,245.7h0M343.2,247.4h0M343.3,245.7h0M343.7,247.1h0M343.7,247.3h0M343.8,248.4h0M344.1,248.6h0M344.2,249.1h0M344.6,247.3h0M344.8,246.1h0M344.8,247.3h0M345.1,246.2h0M345.3,247.0h0M345.1,246.2h0M345.3,244.7h0M345.9,245.9h0M346.0,243.3h0M345.9,244.0h0M346.4,243.1h0M346.4,243.4h0M346.6,243.3h0M346.9,242.3h0M347.3,243.0h0M347.5,242.2h0M347.9,240.7h0M348.0,241.1h0M347.9,239.6h0M348.5,240.0h0M348.5,240.2h0M348.8,238.1h0M348.8,239.6h0M349.2,239.0h0M349.6,237.6h0M350.1,237.3h0M350.8,238.8h0M350.9,236.5h0M351.2,238.2h0M351.8,236.3h0M351.9,236.2h0M352.1,237.3h0M352.3,239.2h0M352.8,237.7h0M353.0,238.7h0M353.1,239.6h0M353.0,239.2h0M353.4,240.8h0M353.7,240.7h0"/>
<path stroke-width="5.4" d="M344.2,252.5h0M344.5,252.2h0M344.4,253.0h0M344.4,253.6h0M344.4,254.4h0M344.7,254.9h0M345.0,254.4h0M344.8,254.7h0M345.0,254.8h0M345.1,256.6h0M345.2,256.4h0M345.1,256.2h0M345.5,257.7h0M345.5,258.1h0M345.5,258.8h0M345.8,259.6h0M345.7,258.8h0M345.8,260.2h0M346.1,259.4h0M346.4,260.0h0M347.0,260.2h0M347.3,259.0h0M347.7,258.8h0M348.3,259.6h0"/>
<path stroke-width="4.8" d="M356.1,247.0h0M356.2,245.6h0M356.5,244.6h0M356.6,246.1h0M356.6,243.3h0M356.6,245.1h0M357.1,245.2h0M357.1,244.2h0M357.3,243.4h0M357.3,240.9h0M357.3,242.7h0M357.0,240.6h0M357.7,241.4h0M357.6,239.8h0M357.7,239.2h0M358.7,240.6h0M358.5,240.7h0M358.6,239.9h0M359.0,240.1h0M359.5,236.5h0M359.6,236.7h0M360.0,236.0h0M360.6,238.2h0M360.9,236.6h0M360.8,237.2h0M361.2,239.5h0M361.7,238.7h0M362.2,238.6h0M362.5,238.9h0M362.6,241.5h0M363.1,238.8h0M363.2,239.1h0M363.2,241.0h0M364.1,242.1h0M364.1,242.2h0M364.6,242.3h0M365.1,241.5h0M365.4,244.8h0M365.4,245.0h0M365.4,245.4h0M365.7,243.9h0M366.3,244.2h0M366.3,245.6h0M366.3,244.6h0M366.6,245.2h0M367.2,244.8h0M367.2,246.4h0M367.6,245.6h0M367.5,246.0h0M368.0,247.7h0M368.3,249.7h0M368.6,250.0h0M368.7,249.5h0M368.5,247.4h0M369.2,247.6h0M369.2,250.7h0M369.2,249.3h0M369.7,249.3h0M369.6,252.9h0M369.8,249.7h0M370.6,251.2h0M370.6,253.2h0M370.6,250.9h0M371.4,251.5h0M371.9,253.0h0M372.1,255.0h0M372.4,253.7h0M372.2,252.8h0M372.8,254.8h0M372.9,253.7h0M373.7,253.4h0M373.9,256.4h0M373.8,257.8h0M373.9,257.3h0M374.5,258.0h0M374.0,255.8h0M374.7,256.5h0M374.4,257.5h0M375.2,259.6h0M374.9,258.6h0M375.4,260.6h0M375.5,257.9h0M376.1,260.4h0M376.1,260.3h0M376.0,259.6h0M376.3,262.7h0M376.7,260.0h0M376.6,260.5h0M377.1,262.1h0M377.4,263.2h0M377.1,262.9h0M377.3,264.4h0M377.7,263.8h0M378.2,265.0h0M378.3,263.7h0M378.4,265.8h0M378.9,264.1h0M378.5,266.3h0M379.4,265.3h0M379.1,265.7h0M379.6,268.2h0M379.8,268.0h0M379.5,266.1h0M380.2,270.1h0M379.9,266.9h0M380.7,268.1h0M380.7,268.4h0M380.9,271.5h0M380.9,271.9h0M380.9,269.4h0M381.2,272.1h0M381.9,273.3h0M382.2,270.7h0M382.2,271.0h0M382.6,271.2h0M382.9,274.6h0M383.1,271.6h0M383.3,274.1h0M383.4,274.3h0M383.8,275.1h0M383.4,273.5h0M383.8,275.7h0M383.8,275.5h0M384.2,277.2h0M385.1,277.8h0M384.9,276.7h0M385.3,277.8h0M385.5,277.2h0M386.2,279.6h0M386.2,277.6h0M387.1,279.3h0M386.9,280.1h0M387.3,278.6h0M387.5,280.4h0M388.5,280.2h0M388.1,281.1h0M388.5,278.8h0M389.3,281.3h0M389.6,280.9h0M390.1,280.7h0M390.7,281.8h0M391.0,282.3h0M391.4,283.2h0M391.2,282.7h0M392.2,282.7h0M392.6,282.0h0M393.1,281.3h0M393.3,282.5h0M393.4,281.9h0M393.8,282.5h0M394.3,281.8h0M394.8,285.3h0M395.3,285.3h0M395.9,285.1h0M395.7,285.0h0M396.2,283.3h0M396.4,282.6h0M397.4,286.1h0M397.6,284.1h0M398.1,286.0h0M398.2,286.3h0M398.9,283.8h0M399.1,284.8h0M399.4,285.1h0M399.5,287.5h0M400.3,285.9h0M400.9,286.0h0M401.3,285.6h0"/>
<path stroke-width="4.6" d="M393.8,279.7h0M393.8,278.2h0M394.4,278.3h0M394.5,277.4h0M395.1,278.5h0M395.3,277.1h0M395.7,277.8h0M396.1,277.6h0M396.2,276.3h0M396.7,275.6h0M396.9,275.6h0M397.4,276.8h0M397.7,275.8h0M398.0,275.5h0M398.1,274.6h0M398.4,273.9h0M398.8,274.2h0M399.3,273.4h0M399.7,274.8h0M400.0,273.1h0M400.1,272.6h0M400.6,272.6h0"/>
<path stroke-width="3.8" d="M301.6,218.5h0M301.6,219.0h0M301.6,219.5h0M301.6,219.9h0M301.6,220.3h0M301.6,220.8h0M301.6,221.2h0M301.6,221.5h0M301.6,222.1h0M301.6,222.5h0"/>
<path stroke-width="4.8" d="M407.8,284.6h0M408.1,282.7h0M408.8,286.0h0M409.4,284.9h0M409.4,283.3h0M410.4,282.6h0M411.0,283.1h0M411.2,284.1h0M411.7,283.4h0M411.8,283.9h0M412.1,285.0h0M413.0,284.0h0M413.0,283.8h0M413.1,285.3h0M413.4,282.8h0M413.8,283.2h0M414.2,283.8h0M414.1,284.3h0M415.0,283.2h0M414.7,281.2h0M415.0,281.7h0M415.7,281.4h0M415.6,279.6h0M415.9,280.8h0M416.4,279.5h0M416.4,278.7h0M417.0,279.3h0M417.4,281.2h0M417.5,277.6h0M418.1,279.8h0M418.7,280.0h0M418.4,279.6h0M419.0,279.6h0M419.1,276.6h0M419.5,278.7h0M419.8,275.4h0M420.4,278.5h0M420.5,277.6h0M421.1,276.4h0M421.8,275.3h0M421.9,275.7h0M422.6,278.0h0M422.6,274.8h0M423.4,276.4h0M423.8,273.9h0M424.3,276.4h0M424.7,274.4h0M425.3,275.6h0M425.8,273.7h0M426.2,276.6h0M426.3,276.2h0M426.6,276.2h0M427.4,273.5h0M427.4,275.8h0M427.7,273.0h0M428.2,273.6h0M429.0,272.4h0M429.5,273.7h0M429.7,272.8h0M430.3,271.0h0M430.3,271.7h0M431.1,272.5h0M431.5,272.2h0M431.3,272.4h0M431.6,273.0h0M432.2,273.4h0M433.0,270.3h0M432.9,270.4h0M433.5,270.2h0M433.7,268.8h0M434.4,269.1h0M434.6,268.2h0M434.8,269.0h0M435.4,269.9h0M435.4,268.1h0M436.4,267.8h0M436.1,267.7h0M436.9,268.9h0M436.9,270.1h0M437.3,267.4h0M438.0,268.5h0M438.7,267.7h0M439.1,268.4h0M439.0,269.4h0M439.5,269.1h0M440.3,265.5h0M440.0,265.6h0M440.6,266.1h0M441.5,268.4h0M441.6,266.2h0M442.2,267.6h0M442.4,266.7h0M442.6,264.4h0M443.3,266.3h0M443.9,266.6h0M443.7,266.9h0M444.5,263.2h0M444.3,264.8h0M444.7,264.9h0M445.1,262.9h0M445.6,263.6h0M446.0,261.6h0M446.1,263.4h0M446.7,263.2h0M446.8,260.4h0M447.3,262.6h0M447.2,262.2h0M447.9,263.0h0M448.0,260.0h0M448.1,262.4h0M449.0,260.0h0M448.8,261.5h0M449.3,260.9h0M450.1,260.6h0M450.1,258.6h0M450.6,258.9h0M450.9,258.2h0M451.6,259.6h0M452.2,258.4h0M452.6,261.7h0M453.2,259.5h0M453.0,260.1h0M453.1,260.7h0M453.5,261.8h0M454.4,261.0h0M454.5,262.9h0M454.6,262.8h0M455.1,263.4h0M455.2,261.8h0M455.1,262.6h0M455.6,265.0h0M456.0,265.5h0M455.8,264.8h0M456.3,263.0h0M456.3,266.1h0M456.4,264.0h0M457.1,264.8h0M457.1,264.5h0M457.7,265.8h0M457.4,269.0h0M458.4,266.0h0M458.0,269.6h0M458.6,267.6h0M458.8,267.9h0M458.9,268.9h0M459.1,267.6h0M459.3,268.4h0M460.0,270.5h0M460.4,269.5h0M460.3,271.7h0M460.4,271.1h0M461.0,273.2h0M460.9,270.2h0M461.4,273.0h0M461.5,273.5h0M462.2,274.1h0M462.3,271.8h0M462.7,272.5h0M463.0,275.2h0M462.7,273.4h0M463.3,275.4h0M463.3,273.8h0M463.5,275.8h0M463.8,276.4h0M464.2,275.3h0M464.7,276.7h0M464.9,275.2h0M464.8,276.3h0M465.4,278.2h0M465.8,278.5h0M465.6,277.3h0M465.8,279.4h0M466.0,277.8h0M466.7,280.5h0M466.9,279.9h0M466.6,279.7h0M467.0,277.4h0M467.0,276.0h0M466.7,275.7h0M466.8,276.8h0M467.5,278.0h0M467.1,275.7h0M467.4,274.0h0M467.4,275.0h0M467.6,275.3h0M467.4,275.1h0M467.7,272.0h0M467.7,273.1h0M467.8,273.3h0M468.4,271.8h0M469.0,273.0h0M469.1,271.5h0M469.8,273.3h0M469.6,271.9h0M470.3,271.1h0M470.3,270.1h0M471.3,272.6h0M471.3,269.1h0M471.6,270.7h0M472.3,268.3h0M472.4,270.8h0M472.8,267.9h0M473.6,267.7h0M473.4,267.3h0M473.7,269.7h0M473.9,266.9h0M474.6,266.8h0M474.7,269.0h0M475.5,266.2h0M475.5,266.8h0M475.8,265.3h0M476.0,268.2h0M476.8,265.2h0M477.3,267.3h0M477.6,265.4h0M477.6,265.7h0M478.3,265.1h0M478.3,266.0h0M479.3,263.8h0M479.6,263.3h0M479.6,264.0h0M480.2,263.5h0M480.4,266.2h0M480.9,265.5h0M481.6,262.8h0M481.6,263.3h0M482.5,263.4h0M482.8,265.0h0M483.3,261.9h0M483.8,264.4h0M483.8,265.8h0M484.6,265.6h0M484.7,263.6h0M485.1,264.2h0M485.3,264.3h0M486.4,263.9h0M486.6,264.8h0M487.1,266.8h0M487.6,264.5h0M487.8,266.2h0M487.7,265.5h0M487.5,265.4h0M487.7,264.4h0M487.6,264.6h0M487.9,263.0h0M488.0,263.7h0M488.5,263.3h0M488.0,263.0h0M488.6,262.8h0M488.7,261.4h0M488.9,258.6h0M488.7,260.0h0M489.1,258.8h0M489.3,260.1h0M489.2,257.6h0M489.4,257.4h0M489.6,257.4h0M490.1,258.9h0M490.4,255.8h0M490.8,258.0h0M491.3,256.6h0M492.0,257.6h0M492.1,255.4h0M492.3,257.3h0M492.9,257.0h0M493.3,255.1h0M493.0,256.5h0M493.8,256.9h0M493.8,257.0h0M494.4,256.9h0M494.2,258.2h0M494.6,257.4h0M495.1,260.0h0M495.5,257.2h0M495.6,257.2h0M495.8,259.2h0M495.4,259.6h0M496.1,260.4h0M495.8,261.8h0M496.2,260.1h0M495.9,262.8h0M496.6,263.5h0M496.3,262.2h0M496.8,263.7h0M496.5,262.2h0M496.9,263.2h0M496.9,263.1h0M497.1,264.7h0M497.4,263.8h0M497.2,267.5h0M497.0,267.1h0M497.4,268.0h0M497.8,267.8h0M497.9,266.8h0M497.4,265.8h0M498.2,266.5h0M498.4,267.6h0M498.6,265.7h0M498.1,265.4h0M498.8,265.3h0M498.8,264.1h0M498.7,263.0h0M499.1,263.2h0M498.9,263.0h0M499.2,260.8h0M499.7,263.1h0M499.5,260.8h0M499.6,261.5h0M500.3,261.4h0M500.3,259.5h0M500.6,261.0h0M500.8,260.6h0M501.1,258.5h0M500.7,260.6h0M501.2,260.2h0M501.1,256.6h0M501.7,258.8h0M501.8,255.9h0M502.4,257.4h0M502.4,255.9h0M502.2,255.1h0M502.5,254.4h0M502.7,255.7h0M502.8,253.5h0M503.0,252.8h0M503.4,253.3h0M503.6,252.4h0M504.4,253.3h0M504.8,253.4h0M504.7,253.2h0M505.1,253.6h0M505.5,251.9h0M506.6,253.8h0M506.6,252.6h0M507.0,252.6h0M507.5,253.5h0M508.3,251.4h0M507.9,253.3h0M508.8,254.7h0M509.0,253.2h0M509.1,255.7h0M509.3,254.2h0M509.9,255.0h0M510.4,256.1h0M510.2,254.2h0M510.9,257.2h0M511.1,256.6h0M511.6,256.0h0M511.4,257.1h0M511.5,256.1h0M512.4,259.1h0M512.3,256.1h0M512.8,258.2h0M513.4,258.1h0M513.5,258.3h0M513.9,260.9h0M514.0,259.5h0M514.5,259.4h0M514.6,261.3h0M515.0,260.0h0M515.7,260.3h0M515.6,261.3h0M516.3,260.8h0M516.5,260.5h0M516.5,260.3h0M517.4,260.7h0M517.3,261.3h0M517.7,261.2h0M518.4,264.0h0M518.9,265.0h0M519.2,263.9h0M519.6,262.4h0M519.4,264.0h0M520.3,265.4h0M520.0,263.7h0M520.8,265.3h0M521.3,263.9h0M521.0,261.5h0M521.3,261.5h0M522.1,263.4h0M522.0,260.8h0M522.7,260.7h0M523.3,262.3h0M523.6,260.8h0M523.5,260.8h0M523.8,260.1h0M524.9,263.0h0M524.7,262.0h0M525.1,260.1h0M526.0,260.8h0M526.3,259.8h0M526.3,262.2h0M527.3,261.4h0M527.5,262.0h0M528.1,263.2h0M528.3,260.9h0M529.0,263.0h0M529.1,262.6h0M529.2,259.4h0M530.0,260.1h0M530.4,258.4h0M530.5,261.1h0M531.1,257.9h0M531.4,259.2h0M531.8,259.5h0M532.3,258.7h0M532.7,260.5h0M532.6,258.9h0"/>
</g>
<circle cx="111" cy="374.1" r="1.6" fill="#FC5009"/>
<g>
<text x="41.72" y="25.7" font-size="23px" textLength="23.72" lengthAdjust="spacingAndGlyphs">15</text>
<text x="41.67" y="143.6" font-size="23px" textLength="24.34" lengthAdjust="spacingAndGlyphs">10</text>
<text x="53.64" y="261.5" font-size="23px" textLength="11.80" lengthAdjust="spacingAndGlyphs">5</text>
<text x="53.89" y="379.3" font-size="23px" textLength="12.12" lengthAdjust="spacingAndGlyphs">0</text>
<text font-size="23px"><tspan x="52.94" y="400.7" textLength="16.50" lengthAdjust="spacingAndGlyphs">−</tspan><tspan x="70.06" y="400.7" textLength="23.31" lengthAdjust="spacingAndGlyphs">10</tspan></text>
<text font-size="23px"><tspan x="173.94" y="400.7" textLength="16.50" lengthAdjust="spacingAndGlyphs">−</tspan><tspan x="190.76" y="400.7" textLength="12.55" lengthAdjust="spacingAndGlyphs">5</tspan></text>
<text x="297.18" y="400.7" font-size="23px" textLength="12.24" lengthAdjust="spacingAndGlyphs">0</text>
<text x="411.17" y="400.7" font-size="23px" textLength="12.42" lengthAdjust="spacingAndGlyphs">5</text>
<text x="521.78" y="400.7" font-size="23px" textLength="23.09" lengthAdjust="spacingAndGlyphs">10</text>
</g>
<text transform="translate(265.3,426.8)" font-size="24.5px"><tspan x="0" y="0" textLength="12.6" lengthAdjust="spacingAndGlyphs">x</tspan> <tspan x="21.9" y="1.7" font-size="29px" textLength="7.73" lengthAdjust="spacingAndGlyphs">[</tspan><tspan x="29.7" y="0" textLength="38.5" lengthAdjust="spacingAndGlyphs">mm</tspan><tspan x="69.2" y="1.7" font-size="29px" textLength="7.73" lengthAdjust="spacingAndGlyphs">]</tspan></text>
<text transform="translate(32.6,297.6) rotate(-90)" font-size="24.5px"><tspan x="-0.6" y="0" textLength="31.8" lengthAdjust="spacingAndGlyphs">Ice</tspan> <tspan x="43.6" y="0" textLength="92" lengthAdjust="spacingAndGlyphs">thickness</tspan> <tspan x="144.6" y="2.2" font-size="30px" textLength="7.99" lengthAdjust="spacingAndGlyphs">[</tspan><tspan x="152.4" y="0" textLength="38.5" lengthAdjust="spacingAndGlyphs">mm</tspan><tspan x="191.9" y="2.2" font-size="30px" textLength="7.99" lengthAdjust="spacingAndGlyphs">]</tspan></text>
<rect x="347.6" y="31.3" width="174.6" height="42.5" fill="#ffffff" stroke="#262626" stroke-width="1.3"/>
<circle cx="372.6" cy="43.4" r="4.1" fill="#0073C4"/>
<circle cx="372.6" cy="63.6" r="4.1" fill="#FC5009"/>
<text font-size="20.2px"><tspan x="397.02" y="48.3" textLength="26.22" lengthAdjust="spacingAndGlyphs">SD</tspan> <tspan x="431.61" y="48.3" textLength="22.53" lengthAdjust="spacingAndGlyphs">ice</tspan> <tspan x="461.98" y="48.3" textLength="56.01" lengthAdjust="spacingAndGlyphs">profile</tspan></text>
<text font-size="20.2px"><tspan x="397.58" y="68.6" textLength="20.79" lengthAdjust="spacingAndGlyphs">IP</tspan> <tspan x="425.82" y="68.6" textLength="22.42" lengthAdjust="spacingAndGlyphs">ice</tspan> <tspan x="456.08" y="68.6" textLength="56.11" lengthAdjust="spacingAndGlyphs">profile</tspan></text>
</svg></body></html>
